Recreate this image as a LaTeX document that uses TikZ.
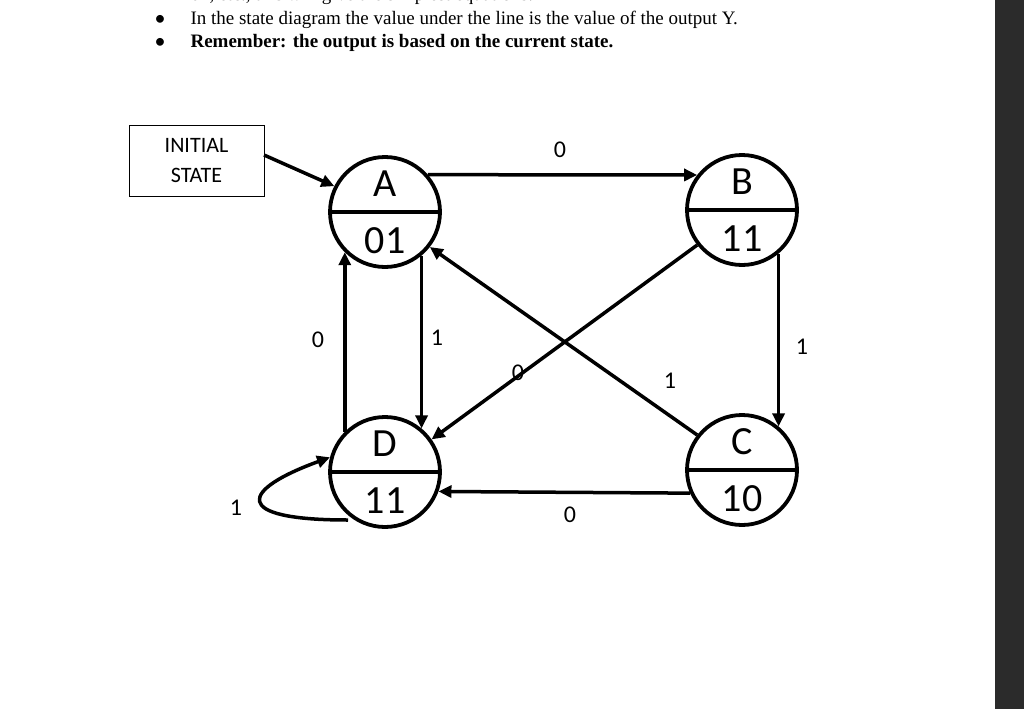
\documentclass[tikz,border=0pt]{standalone}
\usepackage{fontspec}
\setmainfont{Carlito}
\newfontfamily\tnr{Liberation Serif}
\usetikzlibrary{arrows.meta}
\begin{document}
\begin{tikzpicture}[x=1pt,y=-1pt,
  st/.style={circle,draw,line width=3.8pt,minimum size=110pt,inner sep=0pt},
  tr/.style={line width=3.5pt,-{Triangle[length=13pt,width=12pt]}},
  lb/.style={font=\fontsize{24}{26}\selectfont},
  big/.style={font=\fontsize{40}{42}\selectfont}]
\useasboundingbox (0,0) rectangle (1024,709);
\fill[white] (0,0) rectangle (1024,709);
\fill[black!83] (995,0) rectangle (1024,709);
\node[font=\tnr\fontsize{19}{21}\selectfont,anchor=west] (t0) at (187,-4) {01, etc., this will give the simplest equations.};
\node[font=\tnr\fontsize{19}{21}\selectfont,anchor=west] (t1) at (187,20) {In the state diagram the value under the line is the value of the output Y.};
\node[font=\tnr\bfseries\fontsize{19}{21}\selectfont,anchor=west] (t2) at (187,43) {Remember: the output is based on the current state.};
\node[font=\fontsize{22}{22}\selectfont] (b1) at (160,20) {\textbullet};
\node[font=\fontsize{22}{22}\selectfont] (b2) at (160,43) {\textbullet};
\node[draw,line width=0.8pt,minimum width=135pt,minimum height=71pt,align=center,font=\fontsize{22}{30}\selectfont] (init) at (196.5,160.5) {INITIAL\\STATE};
\foreach \n/\x/\y/\a/\b in {A/385/212/A/01,B/742/210/B/11,D/385/472/D/11,C/742/470/C/10}{
  \node[st] (\n) at (\x,\y) {};
  \draw[line width=3.8pt] (\n.west) -- (\n.east);
  \node[big] (\n t) at (\x,\y-28) {\a};
  \node[big] (\n b) at (\x,\y+29) {\b};
}
\coordinate (i1) at (264,155);
\draw[tr] (i1) -- (A.153);
\draw[tr] (A.41) -- (B.142);
\draw[tr] (B.-50) -- (C.50);
\draw[tr] (C.204) -- (D.-20);
\draw[tr] (D.135) -- (A.-135);
\draw[tr] (A.-50) -- (D.50);
\draw[tr] (B.218) -- (D.35);
\draw[tr] (C.142) -- (A.-38);
\coordinate (l1) at (348,520);
\draw[tr] (l1) .. controls (230,520) and (240,490) .. (D.165);
\node[lb] (L1) at (560,150) {0};
\node[lb] (L2) at (802,347) {1};
\node[lb] (L3) at (570,515) {0};
\node[lb] (L4) at (318,340) {0};
\node[lb] (L5) at (437,338) {1};
\node[lb] (L6) at (518,373) {0};
\node[lb] (L7) at (670,381) {1};
\node[lb] (L8) at (236,508) {1};
\end{tikzpicture}
\end{document}
